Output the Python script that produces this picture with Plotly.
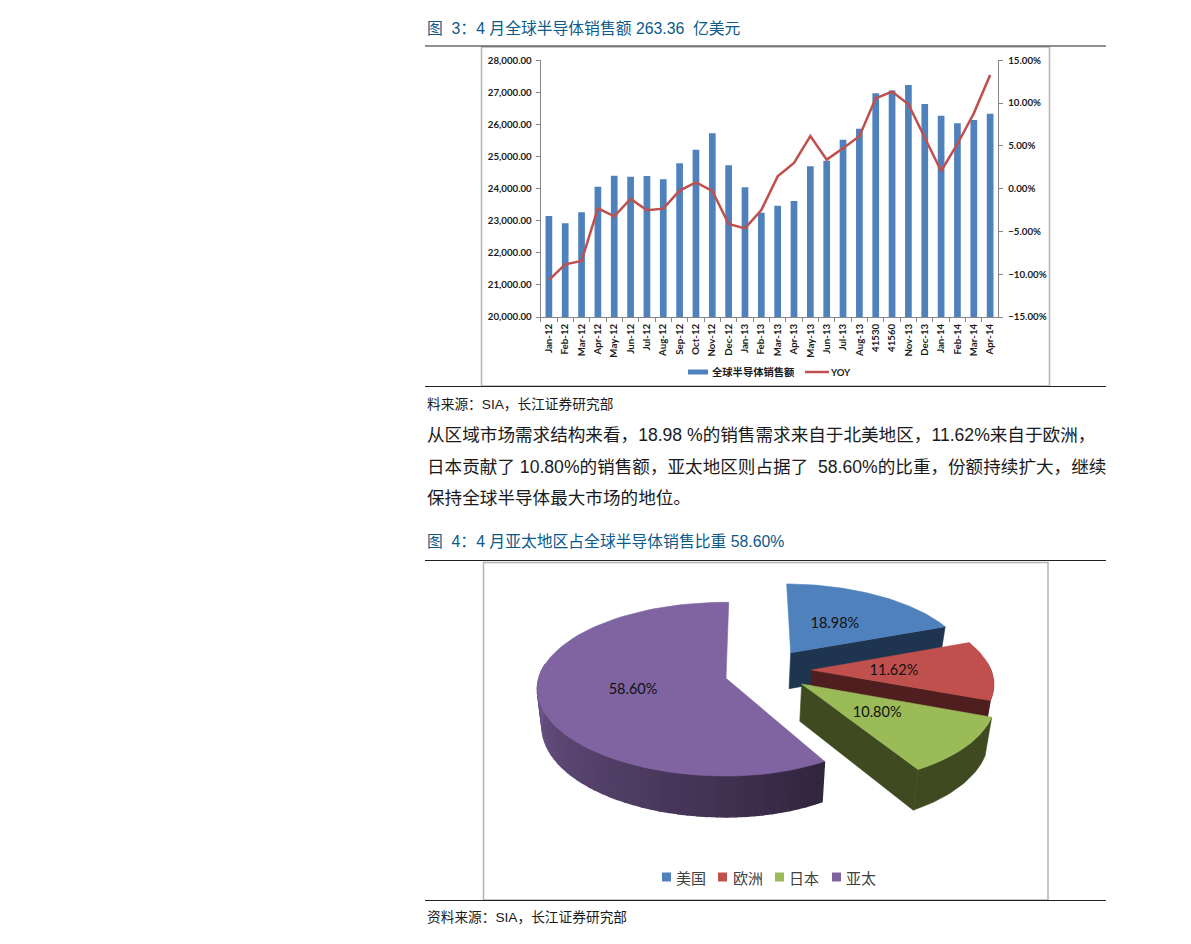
import math
import plotly.graph_objects as go

W, H = 1191, 944

# Monthly global semiconductor sales and year-on-year change
months = ["Jan-12", "Feb-12", "Mar-12", "Apr-12", "May-12", "Jun-12", "Jul-12", "Aug-12",
          "Sep-12", "Oct-12", "Nov-12", "Dec-12", "Jan-13", "Feb-13", "Mar-13", "Apr-13",
          "May-13", "Jun-13", "Jul-13", "Aug-13", "41530", "41560", "Nov-13", "Dec-13",
          "Jan-14", "Feb-14", "Mar-14", "Apr-14"]
sales = [23148, 22920, 23262, 24062, 24405, 24374, 24395, 24291,
         24790, 25216, 25725, 24727, 24042, 23252, 23470, 23616,
         24696, 24873, 25527, 25870, 26971, 27055, 27231, 26640,
         26275, 26036, 26140, 26336]
yoy = [-10.68, -8.84, -8.45, -2.30, -3.23, -1.21, -2.53, -2.34,
       -0.23, 0.74, -0.27, -4.13, -4.64, -2.49, 1.44, 3.00,
       6.15, 3.39, 4.71, 6.12, 10.56, 11.34, 9.86, 5.88,
       2.06, 5.22, 8.80, 13.28]

# Regional share of sales
regions = ["美国", "欧洲", "日本", "亚太"]
shares = [18.98, 11.62, 10.80, 58.60]

# Styling
BAR_BLUE = "#4f81bd"
LINE_RED = "#c0504d"
AXIS_GREY = "#868686"
FRAME_GREY = "#b4b4b4"
TITLE_BLUE = "#0b5a8a"
TEXT_FONT = "Liberation Sans, Noto Sans CJK SC"
CHART_FONT = "Lato, Noto Sans CJK SC"
TOP_COLORS = ["#4f81bd", "#c0504d", "#9bbb59", "#8064a2"]
WALL_COLORS = ["#1f344f", "#4f1f1f", "#3f4a21", None]
WALL_RAMP = [(0.0, (112, 88, 142)), (0.5, (82, 63, 103)), (1.0, (50, 37, 62))]

# Pie projection: a tilted disc seen in perspective, in page pixels
CX, CY, AX_A, AX_B, PERSP = 726.0, 678.0, 189.0, 86.3, 0.1261
FIRST_ANGLE = 1.0
APEX = [(790.7, 652.7), (811.7, 670.0), (801.7, 684.0), (726.0, 678.3)]
RADIUS = [0.96, 0.96, 1.0, 0.99]
RIGHT_SQUEEZE = [1.0, 1.0, 1.0, 0.94]
LABEL_RADIUS = [0.47, 0.44, 0.48, 0.5]
DRAW_ORDER = [3, 0, 1, 2]


def project(px, py):
    d = 1 + PERSP * py
    return CX + AX_A * px / d, CY - AX_B * py / d


def unproject(x, y):
    dy = y - CY
    py = -dy / (AX_B + dy * PERSP)
    px = (x - CX) * (1 + PERSP * py) / AX_A
    return px, py


def lower(x, y):
    # Matching point on the underside of the disc
    return CX + (x - CX) * 0.975, 715 + 1.04 * (y - CY)


def rim(apex_world, radius, squeeze, a0, a1, n):
    pts = []
    for i in range(n + 1):
        t = math.radians(a0 + (a1 - a0) * i / n)
        sx = math.sin(t)
        sx = sx * squeeze if sx > 0 else sx
        pts.append(project(apex_world[0] + radius * sx,
                           apex_world[1] + radius * math.cos(t)))
    return pts


def ramp(t):
    for (t0, c0), (t1, c1) in zip(WALL_RAMP, WALL_RAMP[1:]):
        if t <= t1:
            f = (t - t0) / (t1 - t0)
            return "rgb(%d,%d,%d)" % tuple(c0[k] + (c1[k] - c0[k]) * f for k in range(3))
    return "rgb(%d,%d,%d)" % WALL_RAMP[-1][1]


def polygon(pts, color, stroke=0.6):
    return go.Scatter(x=[p[0] for p in pts] + [pts[0][0]],
                      y=[p[1] for p in pts] + [pts[0][1]],
                      mode="lines", fill="toself", fillcolor=color,
                      line=dict(color=color, width=stroke),
                      hoverinfo="skip", showlegend=False, xaxis="x3", yaxis="y3")


fig = go.Figure()

fig.add_trace(go.Bar(x=months, y=sales, name="全球半导体销售额", marker=dict(color=BAR_BLUE, line=dict(width=0)),
                     xaxis="x", yaxis="y", showlegend=False))
fig.add_trace(go.Scatter(x=months, y=yoy, name="YOY", mode="lines", line=dict(color=LINE_RED, width=2.5),
                         xaxis="x", yaxis="y2", showlegend=False))

# Wedge spans follow the shares, clockwise from the first slice angle
spans = []
start = FIRST_ANGLE
for s in shares:
    end = start + s / sum(shares) * 360
    spans.append((start, end))
    start = end

label_x, label_y = [], []
for idx in DRAW_ORDER:
    a0, a1 = spans[idx]
    apex_screen = APEX[idx]
    apex_world = unproject(*apex_screen)
    r = RADIUS[idx]
    sq = RIGHT_SQUEEZE[idx]

    # Outer wall, front-facing part only
    f0, f1 = max(a0, 85), min(a1, 280)
    if f1 > f0:
        if WALL_COLORS[idx] is None:
            n = 48
            arc = rim(apex_world, r, sq, f0, f1, n)
            # Each band is painted over the previous one, so the strokes hide the joins
            for i in range(n):
                quad = [arc[i], arc[i + 1], lower(*arc[i + 1]), lower(*arc[i])]
                fig.add_trace(polygon(quad, ramp(1 - (i + 0.5) / n), stroke=1.4))
        else:
            arc = rim(apex_world, r, sq, f0, f1, 32)
            fig.add_trace(polygon(arc + [lower(*p) for p in reversed(arc)], WALL_COLORS[idx]))

    # Cut face on the trailing edge of the slices on the right
    if a1 < 180:
        corner = rim(apex_world, r, sq, a1, a1, 1)[0]
        fig.add_trace(polygon([apex_screen, corner, lower(*corner), lower(*apex_screen)], WALL_COLORS[idx]))

    # Top face
    fig.add_trace(polygon([apex_screen] + rim(apex_world, r, sq, a0, a1, 72), TOP_COLORS[idx]))

labels = []
for idx in range(len(shares)):
    a0, a1 = spans[idx]
    mid = math.radians((a0 + a1) / 2)
    wx, wy = unproject(*APEX[idx])
    lx, ly = project(wx + LABEL_RADIUS[idx] * math.sin(mid), wy + LABEL_RADIUS[idx] * math.cos(mid))
    label_x.append(lx)
    label_y.append(ly + 1)
    labels.append(f"{shares[idx]:.2f}%")
fig.add_trace(go.Scatter(x=label_x, y=label_y, text=labels, mode="text", textposition="middle center",
                         textfont=dict(family=CHART_FONT, size=14.5, color="#111111"),
                         hoverinfo="skip", showlegend=False, xaxis="x3", yaxis="y3"))


def fx(x):
    return x / W


def fy(y):
    return 1 - y / H


def rect(x0, y0, x1, y1, fill=None, line=None, width=1):
    return dict(type="rect", xref="paper", yref="paper", x0=fx(x0), x1=fx(x1), y0=fy(y0), y1=fy(y1),
                fillcolor=fill, line=dict(color=line, width=width if line else 0), layer="above")


def hline(x0, x1, y, color, width):
    return dict(type="line", xref="paper", yref="paper", x0=fx(x0), x1=fx(x1), y0=fy(y), y1=fy(y),
                line=dict(color=color, width=width), layer="above")


def text(x, y, s, size, color="#1a1a1a", family=TEXT_FONT, weight=None, anchor="left"):
    return dict(text=s, x=fx(x), y=fy(y), xref="paper", yref="paper", xanchor=anchor, yanchor="middle",
                showarrow=False, align="left", font=dict(family=family, size=size, color=color, weight=weight))


shapes = [
    rect(481.5, 47, 1049.5, 386, line=FRAME_GREY, width=1.5),
    rect(483.5, 562.5, 1048, 900, line=FRAME_GREY, width=1.5),
    hline(425, 1106, 46, "#222222", 1.2),
    hline(425, 1106, 386.5, "#222222", 1.2),
    hline(425, 1106, 560.5, "#222222", 1.2),
    hline(425, 1106, 900.5, "#222222", 1.2),
    # Legend swatches of the sales chart
    rect(688, 369.5, 708, 374.5, fill=BAR_BLUE),
    hline(805, 829, 372, LINE_RED, 2.5),
]
# Legend swatches of the share chart
swatch_x = [662, 718, 775, 832]
name_x = [675, 732, 788, 845]
for i in range(len(regions)):
    shapes.append(rect(swatch_x[i], 872.5, swatch_x[i] + 9, 881.5, fill=TOP_COLORS[i]))

NB = "\u00a0"
annotations = [
    text(424.5, 29, f"图{NB}{NB}3：4 月全球半导体销售额 263.36{NB}{NB}亿美元", 15.8, TITLE_BLUE),
    text(424.5, 404, "料来源：SIA，长江证券研究部", 13.7),
    text(424.5, 435, "从区域市场需求结构来看，18.98 %的销售需求来自于北美地区，11.62%来自于欧洲，", 17.6),
    text(424.5, 467, f"日本贡献了 10.80%的销售额，亚太地区则占据了{NB}{NB}58.60%的比重，", 17.6),
    text(1107.5, 467, "份额持续扩大，继续", 17.6, anchor="right"),
    text(424.5, 498, "保持全球半导体最大市场的地位。", 17.6),
    text(424.5, 541, f"图{NB}{NB}4：4 月亚太地区占全球半导体销售比重 58.60%", 15.8, TITLE_BLUE),
    text(424.5, 917, "资料来源：SIA，长江证券研究部", 13.7),
    text(710, 372, "全球半导体销售额", 10.3, "#1a1a1a", CHART_FONT, 700),
    text(828, 372, "YOY", 9.5, "#1a1a1a", CHART_FONT, 700),
]
for i, name in enumerate(regions):
    annotations.append(text(name_x[i] - 1.5, 877, name, 15, "#404040", "Noto Sans CJK SC"))

tick_font = dict(family=CHART_FONT, size=9.7, color="#1a1a1a", weight=700)
axis_style = dict(showgrid=False, zeroline=False, showline=True, linecolor=AXIS_GREY, linewidth=1,
                  ticks="outside", ticklen=4, tickcolor=AXIS_GREY, tickwidth=1, tickfont=tick_font,
                  fixedrange=True, automargin=False)

fig.update_layout(
    template="none",
    width=W, height=H, margin=dict(l=0, r=0, t=0, b=0, pad=0), autosize=False,
    paper_bgcolor="white", plot_bgcolor="rgba(0,0,0,0)", bargap=0.59, showlegend=False,
    xaxis=dict(domain=[fx(540.7), fx(998.3)], type="category", categoryorder="array", categoryarray=months,
               tickangle=-90, tickson="boundaries", anchor="y", tickmode="array", tickvals=months, ticktext=months,
               ticklabelstandoff=2, **axis_style),
    yaxis=dict(domain=[fy(317), fy(60.3)], range=[20000, 28000], dtick=1000, tickformat=",.2f", anchor="x",
               ticklabelstandoff=2, **axis_style),
    yaxis2=dict(domain=[fy(317), fy(60.3)], range=[-15, 15], dtick=5, tickformat=".2f", ticksuffix="%",
                side="right", overlaying="y", anchor="x", ticklabelstandoff=3, **axis_style),
    xaxis3=dict(domain=[0, 1], range=[0, W], visible=False, fixedrange=True, anchor="y3", automargin=False),
    yaxis3=dict(domain=[0, 1], range=[H, 0], visible=False, fixedrange=True, anchor="x3", automargin=False),
    shapes=shapes, annotations=annotations,
)

fig.write_html("out.html")
